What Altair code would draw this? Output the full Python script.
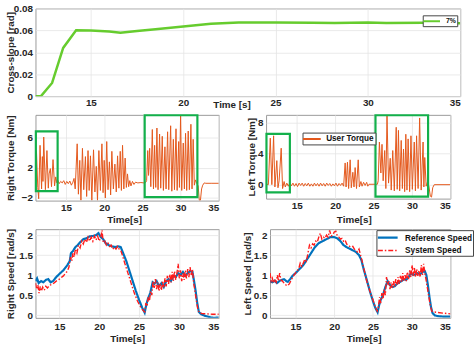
import altair as alt
import pandas as pd

# ---------------- data ----------------
# Cross-slope (top)
cs_t = [12, 12.3, 12.9, 13.5, 14.2, 15, 16, 16.6, 17.5, 18.5, 20, 21.5, 23, 25, 27, 28.2, 30, 31, 33, 35]
cs_v = [0, 0, 0.012, 0.044, 0.060, 0.0598, 0.0590, 0.0578, 0.0595, 0.061, 0.0635, 0.066, 0.0672,
        0.0672, 0.0670, 0.0667, 0.0671, 0.0667, 0.0669, 0.0665]

# Right torque
rt_t = [11.0, 11.13, 11.3, 11.42, 11.6, 11.8, 11.9, 11.98, 12.08, 12.3, 12.5, 12.68, 12.78, 12.95, 13.1,
        13.3, 13.5, 13.65, 13.8, 13.95, 14.1, 14.3, 14.5, 14.7, 14.9, 15.1, 15.3, 15.5, 15.7, 15.9,
        16.05, 16.2, 16.46, 16.62, 16.8, 16.95, 17.15, 17.32, 17.54, 17.7, 17.88, 18.03, 18.2, 18.38,
        18.6, 18.78, 18.96, 19.12, 19.3, 19.5, 19.7, 19.85, 20.0, 20.15, 20.33, 20.5, 20.68, 20.84,
        21.0, 21.2, 21.4, 21.58, 21.75, 21.92, 22.1, 22.25, 22.4, 22.57, 22.74, 22.9, 23.05, 23.2,
        23.35, 23.5, 23.7, 23.9, 24.1, 24.4, 24.8, 25.2, 25.45,
        25.55, 25.7, 25.8, 25.95, 26.1, 26.3, 26.45, 26.6, 26.75, 26.9, 27.05, 27.25, 27.4, 27.6,
        27.75, 27.95, 28.1, 28.3, 28.45, 28.7, 28.85, 29.05, 29.2, 29.4, 29.55, 29.75, 29.85, 30.0,
        30.15, 30.35, 30.5, 30.65, 30.8, 31.0, 31.15, 31.35, 31.5, 31.65, 31.8, 31.95, 32.1, 32.3,
        32.45, 32.6, 32.75, 32.9, 33.1, 33.3, 34.0, 35.0]
rt_v = [0.5, 4.2, -0.6, -2.1, 5.0, -0.8, 3.5, 0.2, 6.1, -0.9, 4.3, -0.7, 1.2, 1.9, -0.5,
        3.1, -0.4, 0.8, 0.0, 0.3, -0.1, 0.2, 0.0, 0.3, -0.2, 0.2, -0.1, 0.25, -0.3, 0.1,
        0.6, -0.8, 5.2, -1.5, 3.0, -2.3, 4.6, -0.9, 3.5, -1.8, 4.3, -1.0, 3.6, -2.3,
        4.4, -1.2, 2.2, -2.3, 4.3, -1.0, 5.2, -1.3, 3.0, -2.0, 5.5, -0.9, 2.8, -1.6,
        4.2, -0.8, 2.5, -1.2, 3.6, -0.7, 4.2, -1.0, 5.0, -0.8, 3.3, -0.6, 1.2, -0.5,
        0.3, -0.4, 0.2, -0.2, 0.1, 0.0, 0.05, 0.0, 0.1,
        0.3, 4.3, 1.0, 4.6, -0.5, 7.1, -0.8, 5.0, -0.6, 7.3, -0.9, 6.5, -0.7, 6.2,
        -1.0, 4.8, -0.8, 6.8, -0.9, 7.6, -1.1, 5.8, -0.9, 7.2, -1.0, 5.5, -0.6, 9.0,
        -1.0, 5.3, -0.8, 6.6, -1.0, 6.9, -0.9, 7.8, -0.8, 5.8, -0.3, 0.4, 0.0, -0.4,
        -2.3, -2.3, -0.8, -0.3, 0.0, -0.05, -0.05, -0.05]

# Left torque
lt_t = [11.0, 11.3, 11.55, 11.75, 11.98, 12.15, 12.4, 12.55, 12.7, 12.97, 13.15, 13.35, 13.5, 13.7,
        13.9, 14.1, 14.3, 14.5, 14.7, 14.9, 15.1, 15.3, 15.5, 15.7, 15.9, 16.1, 16.3, 16.5, 16.7,
        16.9, 17.1, 17.3, 17.5, 17.7, 17.9, 18.1, 18.3, 18.5, 18.7, 18.9, 19.1, 19.3, 19.5, 19.7,
        19.9, 20.1, 20.3, 20.5, 20.7, 20.9, 21.1,
        21.3, 21.42, 21.6, 21.75, 21.95, 22.1, 22.3, 22.45, 22.6, 22.78, 23.0, 23.15, 23.35, 23.5,
        23.7, 23.9, 24.1, 24.25, 24.4, 25.5,
        25.6, 25.76, 25.95, 26.1, 26.25, 26.45, 26.6, 26.75, 26.95, 27.17, 27.3, 27.5, 27.7, 27.95,
        28.08, 28.24, 28.4, 28.6, 28.75, 28.9, 29.05, 29.2, 29.35, 29.5, 29.7, 29.87, 30.05, 30.3,
        30.45, 30.6, 30.8, 31.0, 31.2, 31.45, 31.55, 31.67, 31.85, 32.0, 32.2, 32.4, 32.55, 32.7,
        32.9, 35.0]
lt_v = [0.1, 0.0, 6.0, 0.0, 6.3, -0.3, 3.1, -0.4, 0.5, 4.7, -0.5, 0.4, -0.3, 0.2,
        -0.2, 0.25, -0.15, 0.2, -0.2, 0.15, -0.25, 0.2, -0.1, 0.2, -0.2, 0.15, -0.15, 0.2, -0.2,
        0.1, -0.2, 0.2, -0.15, 0.15, -0.2, 0.2, -0.15, 0.15, -0.2, 0.2, -0.1, 0.15, -0.2, 0.1,
        -0.15, 0.2, -0.2, 0.15, -0.1, 0.2, -0.2,
        2.8, -0.3, 2.9, -0.5, 3.2, -0.4, 1.6, -0.3, 2.2, -0.5, 3.2, -0.3, 0.4, -0.2,
        0.3, -0.1, 0.3, -0.2, 0.05, 0.05,
        0.5, 5.5, 1.5, 5.2, 0.5, 4.4, -0.5, 9.0, 0.2, 3.4, -0.7, 4.4, -0.8, 7.4,
        -0.6, 7.0, -0.8, 5.7, -0.5, 4.6, -0.9, 6.5, -0.7, 5.9, -0.9, 6.3, -0.6, 5.5,
        -0.8, 6.3, -0.5, 8.6, -0.7, 5.5, -0.3, 3.5, -0.2, 0.3, -0.2, -1.5, -1.6, -0.4,
        0.0, 0.0]

# Highlight boxes (time start, time end, torque top, torque bottom)
rt_box_t1 = [11.05, 25.3]
rt_box_t2 = [13.9, 32.2]
rt_box_top = [6.85, 9.0]
rt_box_bot = [-1.1, -1.9]
lt_box_t1 = [11.05, 25.25]
lt_box_t2 = [14.1, 32.1]
lt_box_top = [6.55, 8.95]
lt_box_bot = [-1.0, -1.55]

# Right speed
rs_ref_t = [12.0, 12.2, 12.4, 12.7, 13.0, 13.3, 13.6, 13.9, 14.2, 14.6, 15.0, 15.5, 16.0, 16.3, 16.45,
            16.7, 17.0, 17.3, 17.6, 18.0, 18.4, 18.8, 19.2, 19.6, 19.9, 20.2, 20.5, 20.8, 21.2, 21.6,
            22.0, 22.4, 22.7, 23.0, 23.4, 23.8, 24.2, 24.6, 25.0, 25.4, 25.7, 25.9, 26.1, 26.4, 26.7,
            26.9, 27.2, 27.5, 27.8, 28.1, 28.4, 28.7, 29.0, 29.3, 29.6, 29.9, 30.2, 30.5, 30.8, 31.1,
            31.4, 31.7, 31.9, 32.1, 32.3, 32.5, 32.8, 33.3, 33.8, 34.3, 35.0]
rs_ref_v = [0.85, 0.92, 0.8, 0.85, 0.82, 0.88, 0.9, 0.82, 0.85, 0.95, 1.03, 1.12, 1.25, 1.35, 1.55,
            1.6, 1.7, 1.75, 1.82, 1.9, 1.92, 1.97, 1.98, 2.0, 2.05, 1.95, 1.9, 1.8, 1.75, 1.72,
            1.7, 1.72, 1.7, 1.55, 1.35, 1.1, 0.85, 0.6, 0.38, 0.18, 0.06, 0.25, 0.4, 0.55, 0.82,
            0.78, 0.85, 0.72, 0.8, 0.7, 0.85, 0.9, 0.85, 0.98, 0.95, 1.05, 1.0, 1.08, 0.98, 1.05,
            1.1, 1.08, 0.85, 0.6, 0.3, 0.08, 0.02, -0.02, -0.05, -0.07, -0.06]
rs_sys_t = [12.0, 12.15, 12.3, 12.45, 12.6, 12.75, 12.9, 13.1, 13.3, 13.5, 13.8, 14.2, 14.6, 15.0, 15.5,
            16.0, 16.2, 16.4, 16.55, 16.7, 16.85, 17.0, 17.2, 17.4, 17.6, 17.8, 18.0, 18.2, 18.4, 18.6,
            18.8, 19.0, 19.2, 19.4, 19.6, 19.8, 20.0, 20.2, 20.35, 20.5, 20.7, 20.9, 21.1, 21.3, 21.5,
            21.7, 21.9, 22.1, 22.3, 22.5, 22.7, 22.9, 23.2, 23.6, 24.0, 24.4, 24.8, 25.2, 25.5, 25.7,
            25.85, 26.0, 26.15, 26.3, 26.45, 26.6, 26.75, 26.9, 27.05, 27.2, 27.35, 27.5, 27.65, 27.8,
            27.95, 28.1, 28.25, 28.4, 28.55, 28.7, 28.85, 29.0, 29.15, 29.3, 29.45, 29.6, 29.75, 29.9,
            30.05, 30.2, 30.35, 30.5, 30.65, 30.8, 30.95, 31.1, 31.25, 31.4, 31.55, 31.7, 31.85, 32.0,
            32.2, 32.4, 32.6, 32.9, 33.5, 34.2, 35.0]
rs_sys_v = [0.8, 0.65, 0.75, 0.55, 0.72, 0.6, 0.7, 0.62, 0.72, 0.68, 0.75, 0.78, 0.85, 0.9, 0.98,
            1.1, 1.2, 1.45, 1.35, 1.55, 1.45, 1.65, 1.55, 1.75, 1.68, 1.85, 1.78, 1.9, 1.82, 1.95,
            1.85, 1.95, 1.85, 1.98, 1.88, 1.98, 1.85, 1.95, 2.12, 1.82, 1.85, 1.75, 1.8, 1.72, 1.75,
            1.65, 1.7, 1.65, 1.72, 1.65, 1.62, 1.5, 1.3, 1.05, 0.8, 0.55, 0.35, 0.2, 0.12, 0.08,
            0.3, 0.22, 0.45, 0.35, 0.6, 0.5, 0.85, 0.68, 0.9, 0.65, 0.82, 0.6, 0.78, 0.62,
            0.85, 0.68, 0.92, 0.72, 0.98, 0.78, 1.02, 0.82, 1.08, 0.85, 1.1, 0.88, 1.05, 1.28,
            0.92, 1.12, 0.85, 1.05, 0.88, 1.12, 0.92, 1.15, 0.95, 1.2, 0.98, 1.15, 0.8, 0.62,
            0.35, 0.12, 0.05, 0.04, 0.03, 0.02, 0.02]

# Left speed
ls_ref_t = [11.7, 12.0, 12.3, 12.6, 12.9, 13.2, 13.5, 13.8, 14.0, 14.3, 14.6, 15.0, 15.5, 16.0, 16.5,
            17.0, 17.5, 18.0, 18.5, 19.0, 19.5, 20.0, 20.4, 20.8, 21.2, 21.6, 22.0, 22.4, 22.8, 23.2,
            23.5, 23.8, 24.2, 24.6, 25.0, 25.3, 25.6, 25.8, 26.0, 26.3, 26.6, 26.9, 27.2, 27.5, 27.8,
            28.1, 28.4, 28.7, 29.0, 29.3, 29.6, 29.9, 30.2, 30.5, 30.8, 31.1, 31.4, 31.7, 31.9, 32.1,
            32.3, 32.5, 32.7, 33.0, 33.5, 34.2, 35.0]
ls_ref_v = [0.85, 0.82, 0.86, 0.8, 0.85, 0.88, 0.9, 0.85, 0.83, 0.9, 0.98, 1.05, 1.15, 1.25, 1.4,
            1.55, 1.7, 1.8, 1.85, 1.9, 1.95, 1.95, 1.92, 1.85, 1.75, 1.7, 1.66, 1.62, 1.58, 1.5,
            1.38, 1.15, 0.88, 0.6, 0.35, 0.18, 0.07, 0.25, 0.38, 0.5, 0.7, 0.85, 0.75, 0.7, 0.72,
            0.78, 0.82, 0.85, 0.9, 0.88, 0.95, 1.05, 1.0, 1.02, 1.05, 1.02, 1.08, 1.1, 1.0, 0.75,
            0.45, 0.2, 0.05, -0.01, -0.03, -0.04, -0.04]
ls_sys_t = [11.7, 11.85, 12.0, 12.15, 12.3, 12.5, 12.65, 12.8, 12.95, 13.1, 13.3, 13.6, 13.9, 14.2, 14.5,
            14.8, 15.1, 15.4, 15.6, 15.8, 16.0, 16.2, 16.4, 16.6, 16.8, 17.0, 17.2, 17.4, 17.6, 17.8,
            18.0, 18.2, 18.4, 18.6, 18.8, 19.0, 19.2, 19.4, 19.6, 19.8, 20.0, 20.2, 20.4, 20.6, 20.8,
            21.0, 21.2, 21.4, 21.6, 21.8, 22.0, 22.2, 22.4, 22.6, 22.8, 23.0, 23.2, 23.4, 23.6, 23.9,
            24.2, 24.6, 25.0, 25.3, 25.55, 25.7, 25.85, 26.0, 26.15, 26.3, 26.45, 26.6, 26.75, 26.9,
            27.05, 27.2, 27.35, 27.5, 27.65, 27.8, 27.95, 28.1, 28.25, 28.4, 28.55, 28.7, 28.85, 29.0,
            29.15, 29.3, 29.45, 29.6, 29.75, 29.9, 30.05, 30.2, 30.35, 30.5, 30.65, 30.8, 30.95, 31.1,
            31.25, 31.4, 31.55, 31.7, 31.85, 32.0, 32.2, 32.4, 32.6, 32.8, 33.2, 34.0, 35.0]
ls_sys_v = [1.05, 0.85, 0.92, 0.8, 0.9, 0.82, 1.0, 0.85, 1.05, 0.88, 0.85, 0.78, 0.73, 0.78, 0.9,
            1.0, 1.08, 1.15, 1.3, 1.22, 1.3, 1.4, 1.35, 1.55, 1.75, 1.68, 1.78, 1.75, 1.85, 1.82,
            1.95, 2.05, 1.9, 1.95, 1.92, 2.0, 1.95, 2.12, 1.98, 2.0, 2.08, 2.1, 1.98, 1.95, 1.9,
            1.92, 1.85, 1.88, 1.78, 1.75, 1.72, 1.7, 1.72, 1.65, 1.62, 1.58, 1.65, 1.5, 1.35, 1.1,
            0.85, 0.6, 0.38, 0.2, 0.1, 0.2, 0.45, 0.3, 0.55, 0.4, 0.65, 0.5, 0.95, 0.75,
            0.85, 0.65, 0.82, 0.68, 0.85, 0.7, 0.9, 0.75, 0.95, 0.78, 0.98, 0.82, 1.05, 0.85,
            1.0, 0.85, 1.08, 0.9, 1.12, 0.95, 1.25, 0.98, 1.2, 0.95, 1.15, 0.98, 1.12, 0.95,
            1.25, 1.0, 1.28, 1.05, 0.9, 0.72, 0.48, 0.25, 0.1, 0.08, 0.07, 0.05, 0.03]

SERIES = ["Reference Speed", "System Speed"]
X_TICKS = [15, 20, 25, 30, 35]

# ---------------- styles ----------------
GREEN = "#66cc2e"
BOX_GREEN = "#13b04b"
ORANGE = "#e4581c"
BLUE = "#0072bd"
RED = "#ff1a1a"
FONT = "Liberation Sans"


def legend_box(x, y, size, fs, pad, lo, so, rp=0):
    return alt.Legend(orient="none", legendX=x, legendY=y, title=None,
                      symbolType="M-2,0L2,0", symbolSize=size, symbolStrokeWidth=2,
                      labelFontSize=fs, labelFontWeight="bold", labelColor="#111",
                      labelFont=FONT, padding=pad, strokeColor="#444", fillColor="white",
                      labelOffset=lo, symbolOffset=so, rowPadding=rp, cornerRadius=0)


def xaxis(title, tx, ty, lp):
    return alt.Axis(values=X_TICKS, title=title, titleX=tx, titleY=ty, titleBaseline="middle",
                    titleAlign="center", labelPadding=lp, format="d")


def yaxis(title, vals, tx, fmt="~g"):
    return alt.Axis(values=vals, title=title, titleX=tx, titleBaseline="middle",
                    titleAlign="center", titleAngle=-90, labelPadding=3, format=fmt)


# ---------------- top: cross-slope ----------------
top_df = pd.DataFrame({"t": cs_t, "v": cs_v, "series": "7%"})
top = alt.Chart(top_df).mark_line(strokeWidth=2.5, clip=True).encode(
    x=alt.X("t:Q", scale=alt.Scale(domain=[12, 35], nice=False, zero=False),
            axis=xaxis("Time [s]", 199, 9, 2)),
    y=alt.Y("v:Q", scale=alt.Scale(domain=[0, 0.08], nice=False),
            axis=yaxis("Cross-slope [rad]", [0, 0.02, 0.04, 0.06, 0.08], -25)),
    color=alt.Color("series:N", scale=alt.Scale(domain=["7%"], range=[GREEN]),
                    legend=legend_box(393, 7, 72, 7, 0.5, 9, 3)),
).properties(width=431, height=89)


# ---------------- torque panels ----------------
def torque_panel(t, v, b1, b2, btop, bbot, ydom, yvals, ytitle, ytx, w, h, ttx, tty, with_legend):
    df = pd.DataFrame({"t": t, "v": v, "series": "User Torque"})
    xs = alt.Scale(domain=[11, 35], nice=False, zero=False)
    ys = alt.Scale(domain=ydom, nice=False, zero=False)
    if with_legend:
        col = alt.Color("series:N", scale=alt.Scale(domain=["User Torque"], range=[ORANGE]),
                        legend=legend_box(37, 18, 81, 8.3, 1, 9, 3))
    else:
        col = alt.value(ORANGE)
    line = alt.Chart(df).mark_line(strokeWidth=1, clip=True).encode(
        x=alt.X("t:Q", scale=xs, axis=xaxis("Time[s]", ttx, tty, 2)),
        y=alt.Y("v:Q", scale=ys, axis=yaxis(ytitle, yvals, ytx, "d")),
        color=col,
    )
    bdf = pd.DataFrame({"t1": b1, "t2": b2, "top": btop, "bot": bbot})
    boxes = alt.Chart(bdf).mark_rect(fillOpacity=0, stroke=BOX_GREEN, strokeWidth=2.2).encode(
        x=alt.X("t1:Q", scale=xs), x2="t2:Q",
        y=alt.Y("top:Q", scale=ys), y2="bot:Q",
    )
    return alt.layer(line, boxes).properties(width=w, height=h)


ml = torque_panel(rt_t, rt_v, rt_box_t1, rt_box_t2, rt_box_top, rt_box_bot, [-2.35, 9.05],
                  [-2, 0, 2, 4, 6, 8], "Right Torque [Nm]", -25, 186, 87, 90, 19, False)
mr = torque_panel(lt_t, lt_v, lt_box_t1, lt_box_t2, lt_box_top, lt_box_bot, [-1.8, 9.0],
                  [0, 2, 4, 6, 8], "Left Torque [Nm]", -15, 187, 85, 89, 21, True)


# ---------------- speed panels ----------------
def speed_panel(rt, rv, st, sv, xdom, ytitle, ytx, w, h, ttx, with_legend):
    df = pd.concat([
        pd.DataFrame({"t": rt, "v": rv, "series": SERIES[0]}),
        pd.DataFrame({"t": st, "v": sv, "series": SERIES[1]}),
    ])
    if with_legend:
        lg = legend_box(108, 1, 100, 8.4, 1, 11, 4, 2.6)
    else:
        lg = None
    kw = {} if lg is None else {"legend": lg}
    nol = {} if lg is not None else {"legend": None}
    return alt.Chart(df).mark_line(clip=True).encode(
        x=alt.X("t:Q", scale=alt.Scale(domain=xdom, nice=False, zero=False),
                axis=xaxis("Time[s]", ttx, 20.5, 4)),
        y=alt.Y("v:Q", scale=alt.Scale(domain=[-0.07, 2.15], nice=False, zero=False),
                axis=yaxis(ytitle, [0, 0.5, 1, 1.5, 2], ytx)),
        color=alt.Color("series:N", scale=alt.Scale(domain=SERIES, range=[BLUE, RED]), **kw, **nol),
        strokeDash=alt.StrokeDash("series:N", scale=alt.Scale(domain=SERIES, range=[[1, 0], [5, 2, 1.5, 2]]),
                                  **kw, **nol),
        strokeWidth=alt.StrokeWidth("series:N", scale=alt.Scale(domain=SERIES, range=[2.2, 1.4]), legend=None),
    ).properties(width=w, height=h)


bl = speed_panel(rs_ref_t, rs_ref_v, rs_sys_t, rs_sys_v, [12, 35], "Right Speed [rad/s]", -25, 186, 90, 93, False)
br = speed_panel(ls_ref_t, ls_ref_v, ls_sys_t, ls_sys_v, [11.7, 35], "Left Speed [rad/s]", -23, 183, 90, 95, True)

ind = dict(color="independent", strokeDash="independent", strokeWidth="independent")
row2 = alt.hconcat(ml, mr, spacing=48, bounds="flush").resolve_scale(**ind).resolve_legend(**ind)
row3 = alt.hconcat(bl, br, spacing=52, bounds="flush").resolve_scale(**ind).resolve_legend(**ind)

chart = alt.vconcat(top, row2, row3, spacing=2).resolve_scale(**ind).resolve_legend(**ind).properties(
    padding={"left": 5, "top": 0, "right": 0, "bottom": 0},
    background="white",
).configure(font=FONT).configure_axis(
    labelFont=FONT, titleFont=FONT, labelFontWeight="bold", titleFontWeight="bold",
    labelFontSize=10, titleFontSize=10, labelColor="#262626", titleColor="#262626",
    ticks=False, domain=False, gridColor="#e4e4e4", gridWidth=0.8,
).configure_view(stroke="#9a9a9a", strokeWidth=1)

chart.save("out.html", embed_options={"renderer": "svg", "actions": False})
